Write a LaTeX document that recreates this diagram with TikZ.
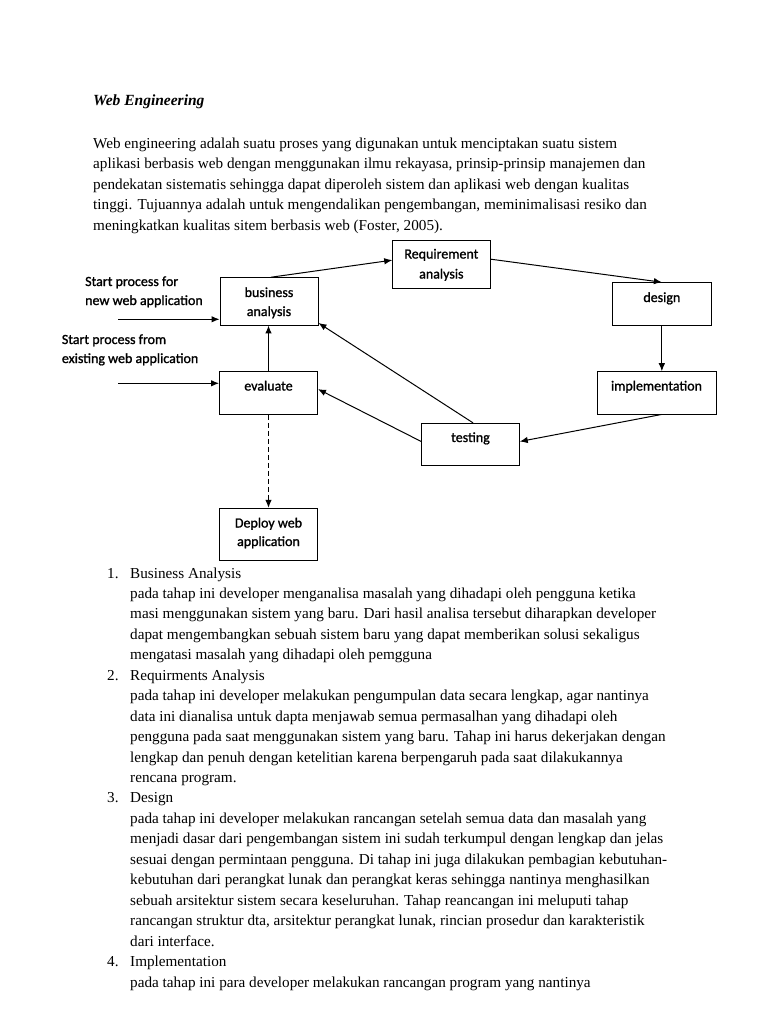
\documentclass[tikz,border=0pt]{standalone}
\usepackage{fontspec}
\setmainfont{Liberation Serif}
\newfontfamily\diafont[FakeBold=1.2]{Carlito}
\usetikzlibrary{arrows.meta,calc}
\begin{document}
\begin{tikzpicture}[x=1pt,y=-1pt,
  txt/.style={anchor=base west, inner sep=0pt, font=\fontsize{15.2}{18}\selectfont},
  ttl/.style={anchor=base west, inner sep=0pt, font=\fontsize{15.5}{18}\selectfont\bfseries\itshape},
  box/.style={draw, line width=0.95pt, inner sep=0pt},
  lbl/.style={anchor=base, inner sep=0pt, font=\diafont\fontsize{14}{16}\selectfont},
  slbl/.style={anchor=base west, inner sep=0pt, font=\diafont\fontsize{14}{16}\selectfont},
  arr/.style={line width=1pt, -{Latex[length=8pt,width=6.5pt]}},
]
\useasboundingbox[fill=white] (0,0) rectangle (768,1024);

% ---------- heading and paragraph ----------
\node[ttl] (title) at (93,105.5) {Web Engineering};
\node[txt] (p1) at (93,148.5) {Web engineering adalah suatu proses yang digunakan untuk menciptakan suatu sistem};
\node[txt] (p2) at (93,169) {aplikasi berbasis web dengan menggunakan ilmu rekayasa, prinsip-prinsip manajemen dan};
\node[txt] (p3) at (93,189.5) {pendekatan sistematis sehingga dapat diperoleh sistem dan aplikasi web dengan kualitas};
\node[txt] (p4) at (93,210) {tinggi. Tujuannya adalah untuk mengendalikan pengembangan, meminimalisasi resiko dan};
\node[txt] (p5) at (93,230.5) {meningkatkan kualitas sitem berbasis web (Foster, 2005).};

% ---------- diagram boxes ----------
\node[box, minimum width=97.3pt, minimum height=48.3pt] (rq) at (441.35,264.15) {};
\node[box, minimum width=98pt, minimum height=47.3pt] (ba) at (269,301.35) {};
\node[box, minimum width=98.3pt, minimum height=43pt] (de) at (661.85,304.2) {};
\node[box, minimum width=119pt, minimum height=42.3pt] (im) at (656.5,392.85) {};
\node[box, minimum width=97.6pt, minimum height=42.4pt] (te) at (470.5,444.5) {};
\node[box, minimum width=98pt, minimum height=42.8pt] (ev) at (268.5,393.1) {};
\node[box, minimum width=98pt, minimum height=51.7pt] (dp) at (268.5,534.15) {};

% box texts
\node[lbl] (rqa) at (441.35,258.5) {Requirement};
\node[lbl] (rqb) at (441.35,278.5) {analysis};
\node[lbl] (baa) at (269,297) {business};
\node[lbl] (bab) at (269,316) {analysis};
\node[lbl] (dea) at (661.85,302) {design};
\node[lbl] (ima) at (656.5,390.5) {implementation};
\node[lbl] (tea) at (470.5,442) {testing};
\node[lbl] (eva) at (268.5,390.5) {evaluate};
\node[lbl] (dpa) at (268.5,527.5) {Deploy web};
\node[lbl] (dpb) at (268.5,546) {application};

% start labels
\node[slbl] (s1a) at (85,286) {Start process for};
\node[slbl] (s1b) at (85,305) {new web application};
\node[slbl] (s2a) at (61.7,344) {Start process from};
\node[slbl] (s2b) at (61.7,363) {existing web application};
\coordinate (s1) at (118.3,319.3);
\coordinate (s2) at (118.3,383.3);

% ---------- connectors ----------
\draw[arr] ($(ba.north)+(2,0)$) -- ($(rq.west)+(0,-4)$);
\draw[arr] ($(rq.east)+(0,-5)$) -- (de.north);
\draw[arr] (de.south) -- (de.south |- im.north);
\draw[arr] ($(im.south)+(5,0)$) -- ($(te.east)+(0,-3)$);
\draw[arr] ($(te.north)+(2.5,0)$) -- ($(ba.south east)+(0,-2.5)$);
\draw[arr] ($(te.west)+(0,-3)$) -- ($(ev.east)+(0,-4)$);
\draw[arr] (ev.north) -- (ev.north |- ba.south);
\draw[arr, dash pattern=on 5pt off 3pt] (ev.south) -- (dp.north);
\draw[arr] (s1) -- (s1 -| ba.west);
\draw[arr] (s2) -- (s2 -| ev.west);

% ---------- numbered list ----------
\node[txt] (n1) at (107,578) {1.};
\node[txt] (l1) at (130,578) {Business Analysis};
\node[txt] (l2) at (130,598.45) {pada tahap ini developer menganalisa masalah yang dihadapi oleh pengguna ketika};
\node[txt] (l3) at (130,618.9) {masi menggunakan sistem yang baru. Dari hasil analisa tersebut diharapkan developer};
\node[txt] (l4) at (130,639.35) {dapat mengembangkan sebuah sistem baru yang dapat memberikan solusi sekaligus};
\node[txt] (l5) at (130,659.8) {mengatasi masalah yang dihadapi oleh pemgguna};
\node[txt] (n2) at (107,680.25) {2.};
\node[txt] (l6) at (130,680.25) {Requirments Analysis};
\node[txt] (l7) at (130,700.7) {pada tahap ini developer melakukan pengumpulan data secara lengkap, agar nantinya};
\node[txt] (l8) at (130,721.15) {data ini dianalisa untuk dapta menjawab semua permasalhan yang dihadapi oleh};
\node[txt] (l9) at (130,741.6) {pengguna pada saat menggunakan sistem yang baru. Tahap ini harus dekerjakan dengan};
\node[txt] (l10) at (130,762.05) {lengkap dan penuh dengan ketelitian karena berpengaruh pada saat dilakukannya};
\node[txt] (l11) at (130,782.5) {rencana program.};
\node[txt] (n3) at (107,802.95) {3.};
\node[txt] (l12) at (130,802.95) {Design};
\node[txt] (l13) at (130,823.4) {pada tahap ini developer melakukan rancangan setelah semua data dan masalah yang};
\node[txt] (l14) at (130,843.85) {menjadi dasar dari pengembangan sistem ini sudah terkumpul dengan lengkap dan jelas};
\node[txt] (l15) at (130,864.3) {sesuai dengan permintaan pengguna. Di tahap ini juga dilakukan pembagian kebutuhan-};
\node[txt] (l16) at (130,884.75) {kebutuhan dari perangkat lunak dan perangkat keras sehingga nantinya menghasilkan};
\node[txt] (l17) at (130,905.2) {sebuah arsitektur sistem secara keseluruhan. Tahap reancangan ini meluputi tahap};
\node[txt] (l18) at (130,925.65) {rancangan struktur dta, arsitektur perangkat lunak, rincian prosedur dan karakteristik};
\node[txt] (l19) at (130,946.1) {dari interface.};
\node[txt] (n4) at (107,966.55) {4.};
\node[txt] (l20) at (130,966.55) {Implementation};
\node[txt] (l21) at (130,987) {pada tahap ini para developer melakukan rancangan program yang nantinya};
\end{tikzpicture}
\end{document}
